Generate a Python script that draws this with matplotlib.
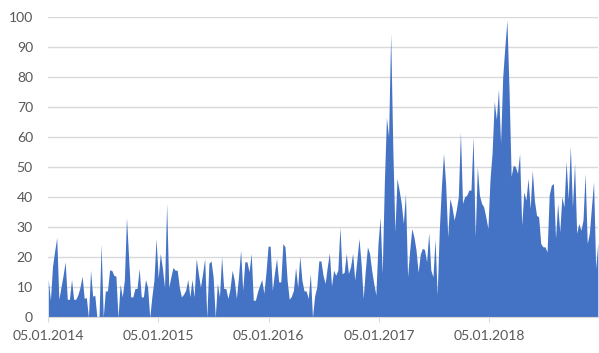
import matplotlib
matplotlib.use("Agg")
import matplotlib.pyplot as plt
import pandas as pd
import numpy as np

start_date = "2014-01-05"
tick_labels = ["05.01.2014", "05.01.2015", "05.01.2016", "05.01.2017", "05.01.2018"]
tick_dates = ["2014-01-05", "2015-01-05", "2016-01-05", "2017-01-05", "2018-01-05"]

values_2014 = [12.6, 5.7, 17, 22, 26.6, 6, 10, 14, 18.5, 6, 6, 12.6, 6, 6, 7.5, 10, 13.7, 6.3, 6.6, 0,
               15.7, 7, 7.4, 0, 0, 24.4, 0, 8.8, 8.8, 15.7, 15.7, 14, 13.7, 0, 11]
values_2015 = [6.8, 12.4, 33.3, 20, 6.8, 6.8, 9.6, 9.6, 16.3, 6.8, 6.8, 12.6, 10, 0, 6.8, 12.4, 26.3, 13,
               21.3, 16.3, 10, 38, 10, 13.5, 16.6, 15.7, 15.7, 10, 6.8, 7.7, 9, 12.6, 6.8, 12.6, 6.8,
               19.6, 14.6, 10, 14.6, 19.6, 0, 18, 18.8, 13.5, 0, 11.3, 6.8, 20.2, 9.6, 9.6, 6.3, 9.6,
               15.7, 12.4, 6.3, 13.5, 22.4, 9, 18.5, 18.5, 15.2, 21.3, 5.7, 5.7, 8.5, 10.7, 12.6, 8,
               15, 23.7, 23.7]
values_2016 = [9, 14.6, 19.6, 11.8, 11.8, 24.6, 23.5, 12.4, 6, 7, 9, 16.6, 10, 20.4, 12.4, 8.8, 8.8, 6.3,
               14.6, 0, 7, 10, 18.8, 18.8, 14, 11.3, 16.8, 21.5, 10.4, 15.7, 14, 15.7, 30.2, 14.5, 15,
               21.3, 14.6, 16.8, 21.3, 12.4, 19, 26.3, 18, 6.3, 15.7, 23.5, 21.3, 15.7, 11.3, 7.4]
values_2017 = [24.6, 33.3, 14.6, 44.6, 66.6, 60.2, 94.6, 56.8, 28.5, 46.3, 42.4, 38, 31.3, 41.3, 13.5,
               22.4, 29.6, 26.8, 22.4, 15, 21, 23, 22.6, 18.5, 28.2, 15.7, 13.5, 26, 7.4, 29, 43.5,
               54.6, 44.6, 26.8, 39.6, 36.8, 32.4, 35.7, 40.2, 61.8, 38, 40.2, 40.7, 42.4, 42.4, 60.2,
               26.8, 50.2, 40.7, 38, 36.8, 33.5]
values_2018 = [29.6, 46, 55, 72, 66, 76, 58, 80, 90, 99, 76, 47, 50.7, 50.2, 48, 54.6, 30.7, 41.8, 39,
               46.3, 36.3, 49, 39, 34, 33.5, 24.6, 23.5, 23.5, 21.8, 40.7, 44, 44.6, 26.3, 38, 28.5,
               40.2, 36.8, 52, 39.5, 57, 36.8, 51.3, 28, 31.3, 29, 32.4, 48, 24.6, 28, 36.8, 45.2,
               16.3, 25]

values = values_2014 + values_2015 + values_2016 + values_2017 + values_2018
dates = pd.date_range(start_date, periods=len(values), freq="7D")

fig = plt.figure(figsize=(5.99, 3.53), dpi=100)
ax = fig.add_axes([0.0806, 0.1011, 0.9174, 0.8499])

ax.fill_between(dates, 0, values, color="#4472C4", linewidth=0, zorder=2)

ax.set_ylim(0, 100)
ax.set_yticks(np.arange(0, 101, 10))
ax.set_xlim(dates[0], dates[-1])
ax.set_xticks(pd.to_datetime(tick_dates))
ax.set_xticklabels(tick_labels)

ax.grid(axis="y", color="#D9D9D9", linewidth=1, zorder=0)
ax.set_axisbelow(True)
for s in ["top", "right", "left"]:
    ax.spines[s].set_visible(False)
ax.spines["bottom"].set_color("#D9D9D9")
ax.spines["bottom"].set_zorder(3)

fam = ["Lato", "DejaVu Sans"]
ax.tick_params(axis="y", length=0, pad=11, labelsize=10, labelcolor="#595959")
ax.tick_params(axis="x", length=3.6, color="#D9D9D9", pad=5.5, labelsize=10, labelcolor="#595959")
labels = ax.get_xticklabels() + ax.get_yticklabels()
for lab in labels:
    lab.set_family(fam)

# scale font so a date label is about 72 px wide, like the reference
fig.canvas.draw()
w = ax.get_xticklabels()[0].get_window_extent().width
size = 10 * 72.0 / w
ax.tick_params(axis="both", labelsize=size)

fig.savefig("out.png", dpi=100)
